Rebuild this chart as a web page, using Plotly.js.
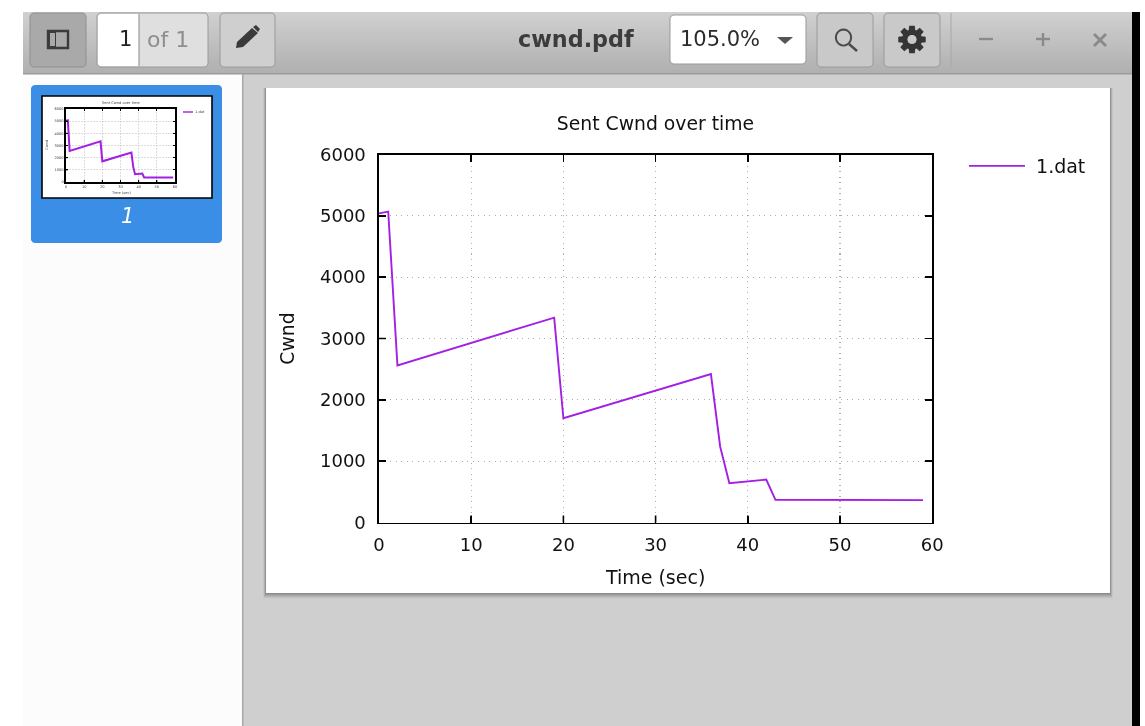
<!DOCTYPE html>
<html><head><meta charset="utf-8">
<script src="https://cdn.plot.ly/plotly-3.0.1.min.js"></script>
<style>html,body{margin:0;padding:0;background:#fff}#c{width:1145px;height:726px;filter:blur(0.5px)}</style>
</head><body><div id="c"></div>
<script>
var time = [0, 1, 2, 19, 20, 36, 37, 38, 42, 43, 59];
var cwnd = [5040, 5070, 2560, 3340, 1700, 2420, 1240, 640, 700, 370, 365];
var xTicks = [0, 10, 20, 30, 40, 50, 60];
var yTicks = [0, 1000, 2000, 3000, 4000, 5000, 6000];
var chartTitle = 'Sent Cwnd over time', xLabel = 'Time (sec)', yLabel = 'Cwnd', seriesName = '1.dat';
var W = 1145, H = 726, FONT = '"DejaVu Sans", sans-serif', PURPLE = '#a31fe3';
function px(x){return x/W} function py(y){return 1-y/H}
var shapes = [], notes = [];
function rect(x0,y0,x1,y1,fill,line){shapes.push({type:'rect',xref:'paper',yref:'paper',layer:'below',x0:px(x0),x1:px(x1),y0:py(y1),y1:py(y0),fillcolor:fill,line:line?{color:line,width:1}:{width:0}})}
function seg(x0,y0,x1,y1,color,w){shapes.push({type:'line',xref:'paper',yref:'paper',layer:'below',x0:px(x0),x1:px(x1),y0:py(y0),y1:py(y1),line:{color:color,width:w}})}
function P(x,y){return px(x).toFixed(5)+','+py(y).toFixed(5)}
function poly(pts,fill,line,w,close){var d=pts.map(function(p,i){return (i?'L':'M')+P(p[0],p[1])}).join(' ')+(close===false?'':' Z');shapes.push({type:'path',xref:'paper',yref:'paper',layer:'below',path:d,fillcolor:fill||'rgba(0,0,0,0)',line:line?{color:line,width:w||1}:{width:0}})}
function round(x0,y0,x1,y1,r,fill,line){var a=[],s=6,c=[[x1-r,y0+r,-90],[x1-r,y1-r,0],[x0+r,y1-r,90],[x0+r,y0+r,180]];c.forEach(function(k){for(var i=0;i<=s;i++){var t=(k[2]+90*i/s)*Math.PI/180;a.push([k[0]+r*Math.cos(t),k[1]+r*Math.sin(t)])}});poly(a,fill,line,1)}
function text(x,y,s,size,color,extra){var o={xref:'paper',yref:'paper',x:px(x),y:py(y),text:s,showarrow:false,font:{family:FONT,size:size,color:color},xanchor:'center',yanchor:'middle'};for(var k in extra)o[k]=extra[k];notes.push(o)}

// window body
rect(23,74,242,726,'#fcfcfc');
rect(243,74,1132,726,'#cfcfcf');
rect(242,74,243.5,726,'#a8a8a8');
// toolbar gradient
for(var i=0;i<61;i++){var v=Math.round(208-(208-176)*i/60);rect(23,12+i,1132,13+i,'rgb('+v+','+v+','+v+')')}
rect(23,73,1132,74.5,'#9c9c9c');
rect(1132,12,1140,726,'#000000');
// sidebar card
round(31,85,222,243,4,'#3a8ee6');
rect(42,96,212,198,'#ffffff','#000000');
shapes[shapes.length-1].line.width=1.6;
// page with shadow
for(var j=6;j>=1;j--){rect(266-j/2,88,1110+j/2,593+j,'rgba(90,90,90,'+(0.11*(7-j)/3).toFixed(3)+')')}
rect(266,88,1110,593,'#ffffff');
// buttons
round(30,13,86,67,4,'#a9a9a9','#8f8f8f');
round(97,13,208,67,4,'#dfdfdf','#9a9a9a');
round(98,14,139,66,3,'#ffffff');
rect(136,14,139,66,'#ffffff');
seg(139,14,139,66,'#8a8a8a',1);
round(220,13,275,67,4,'#cfcfcf','#9a9a9a');
round(670,15,806,64,4,'#ffffff','#9a9a9a');
round(817,13,873,67,4,'#c9c9c9','#9a9a9a');
round(884,13,940,67,4,'#c9c9c9','#9a9a9a');
seg(951,13,951,67,'#a8a8a8',1);
// sidebar icon
rect(48,31,68,48,'rgba(0,0,0,0)','#3b3b3b');shapes[shapes.length-1].line.width=2.4;
rect(48,31,56,48,'#3b3b3b');rect(50,33,55,46,'#a9a9a9');
// pencil
poly([[236,48],[237,42],[252,28],[258,33],[243,47]],'#3a3a3a');
poly([[253,27],[256,25],[260,29],[258,32]],'#3a3a3a');
// dropdown arrow
poly([[777,37],[793,37],[785,44]],'#555555');
// magnifier
var circ=[];for(var a=0;a<=24;a++){var t=a/24*2*Math.PI;circ.push([843.5+7.6*Math.cos(t),37.5+8*Math.sin(t)])}
poly(circ,null,'#4a4a4a',2);
seg(849,44,857,51,'#4a4a4a',2.4);
// gear
var g=[];for(var b=0;b<8;b++){var c=b/8*2*Math.PI;
 var rs=[[-0.33,10],[-0.2,14],[0.2,14],[0.33,10]];rs.forEach(function(q){var th=c+q[0];g.push([912+q[1]*Math.sin(th),39.5-q[1]*Math.cos(th)])})}
poly(g,'#353535');
var hole=[];for(var a2=0;a2<=20;a2++){var t2=a2/20*2*Math.PI;hole.push([912+4.6*Math.cos(t2),39.5+4.6*Math.sin(t2)])}
poly(hole,'#c9c9c9');
// window controls
seg(979,39,993,39,'#8a8a8a',2.4);
seg(1036,39,1050,39,'#8a8a8a',2.4);seg(1043,33,1043,46,'#8a8a8a',2.4);
seg(1094,34,1106,46,'#8a8a8a',2.8);seg(1106,34,1094,46,'#8a8a8a',2.8);
// thumbnail legend
seg(183,112,193,112,PURPLE,1.4);

// toolbar text
text(125,39,'1',21,'#222222');
text(168,39,'of 1',22,'#8e8e8e');
text(575.5,39,'cwnd.pdf',22.3,'#3c3c3c',{font:{family:FONT,size:22.3,color:'#3c3c3c',weight:'bold'}});
text(720,39,'105.0%',21,'#2c2c2c');
text(127.5,216,'1',21,'#ffffff',{font:{family:FONT,size:21,color:'#ffffff',style:'italic'}});
// thumbnail text
text(121,103,chartTitle,3.6,'#444444');
text(200,112,seriesName,3.6,'#444444');
text(121,193,xLabel,3.6,'#444444');
text(47,145,yLabel,3.6,'#444444',{textangle:-90});

// inward ticks on the bottom and left sides, placed through the axis scales
function sideTicks(xr,yr,bottom,left,len,w){
  xTicks.slice(1,-1).forEach(function(v){shapes.push({type:'line',xref:xr,yref:'paper',x0:v,x1:v,y0:py(bottom),y1:py(bottom-len),line:{color:'#000000',width:w}})});
  yTicks.slice(1,-1).forEach(function(v){shapes.push({type:'line',xref:'paper',yref:yr,y0:v,y1:v,x0:px(left),x1:px(left+len),line:{color:'#000000',width:w}})});
}
sideTicks('x','y',522.5,379,7,1.6);
sideTicks('x2','y2',182,66,2,1);

var axisBase = {showline:true,linecolor:'#000000',mirror:'allticks',ticks:'inside',tickcolor:'#000000',
  showgrid:true,gridcolor:'#aeaeae',griddash:'1.3px,4.2px',gridwidth:1.1,zeroline:false,fixedrange:true};
function axis(o){var r={};for(var k in axisBase)r[k]=axisBase[k];for(var k2 in o)r[k2]=o[k2];return r}

var traces = [
 {x:time,y:cwnd,mode:'lines',name:'\u00a0'+seriesName,line:{color:PURPLE,width:1.9,shape:'linear'},xaxis:'x',yaxis:'y',hoverinfo:'skip'},
 {x:time,y:cwnd,mode:'lines',showlegend:false,line:{color:PURPLE,width:2},xaxis:'x2',yaxis:'y2',hoverinfo:'skip'}
];
var layout = {
 width:W,height:H,margin:{l:0,r:0,t:0,b:0,pad:0},paper_bgcolor:'rgba(0,0,0,0)',plot_bgcolor:'#ffffff',
 font:{family:FONT,color:'#111111'},
 title:{text:chartTitle,font:{family:FONT,size:18.8,color:'#111111'},x:px(655.5),xanchor:'center',xref:'paper',y:py(123.5),yanchor:'middle'},
 xaxis:axis({domain:[px(379),px(932.2)],range:[0,60],tickvals:xTicks,ticktext:xTicks.map(String),ticklen:7,tickwidth:1.6,linewidth:1.6,ticklabelstandoff:5,
   tickfont:{family:FONT,size:18,color:'#111111'},title:{text:xLabel,font:{family:FONT,size:19,color:'#111111'},standoff:17},anchor:'y'}),
 yaxis:axis({domain:[py(522.5),py(154.5)],range:[0,6000],tickvals:yTicks,ticktext:yTicks.map(String),ticklen:7,tickwidth:1.6,linewidth:1.6,ticklabelstandoff:8,
   tickfont:{family:FONT,size:18,color:'#111111'},title:{text:yLabel,font:{family:FONT,size:18.8,color:'#111111'},standoff:20},anchor:'x'}),
 xaxis2:axis({domain:[px(66),px(175)],range:[0,60],tickvals:xTicks,ticktext:xTicks.map(String),ticklen:2,tickwidth:1,linewidth:1.6,gridwidth:0.6,gridcolor:'#c4c4c4',griddash:'1.5px,1.5px',
   tickfont:{family:FONT,size:3.6,color:'#444444'},anchor:'y2'}),
 yaxis2:axis({domain:[py(182),py(109)],range:[0,6000],tickvals:yTicks,ticktext:yTicks.map(String),ticklen:2,tickwidth:1,linewidth:1.6,gridwidth:0.6,gridcolor:'#c4c4c4',griddash:'1.5px,1.5px',
   tickfont:{family:FONT,size:3.6,color:'#444444'},anchor:'x2'}),
 showlegend:true,
 legend:{x:px(964),y:py(147),xanchor:'left',yanchor:'top',bgcolor:'rgba(0,0,0,0)',borderwidth:0,itemwidth:56,font:{family:FONT,size:19,color:'#111111'},itemclick:false,itemdoubleclick:false},
 shapes:shapes,annotations:notes
};
Plotly.newPlot('c',traces,layout,{displayModeBar:false,staticPlot:true});
</script></body></html>
